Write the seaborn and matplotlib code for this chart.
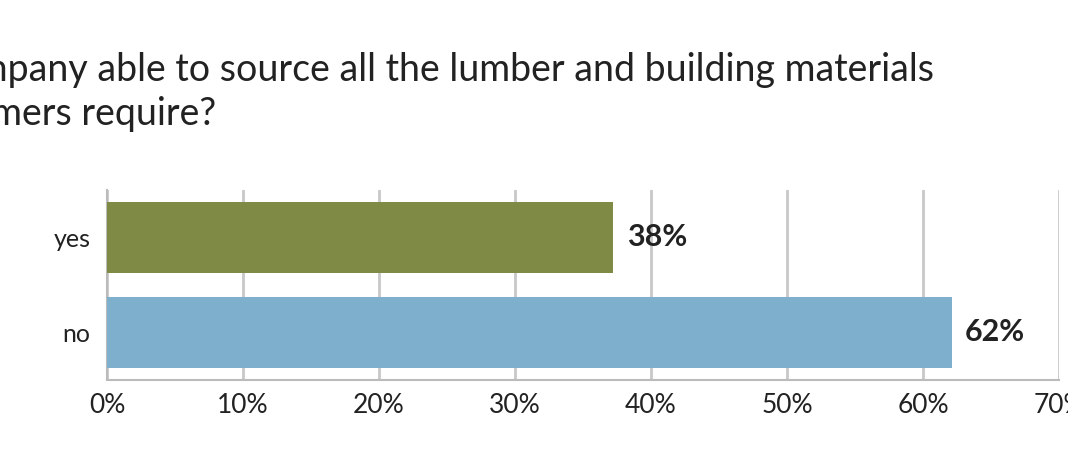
import matplotlib
matplotlib.use("Agg")
import matplotlib.pyplot as plt
import seaborn as sns
import pandas as pd

answers = ["yes", "no"]
shares = [37.2, 62.1]
value_labels = ["38%", "62%"]
bar_colors = ["#7f8b45", "#7eb0ce"]
x_ticks = [0, 10, 20, 30, 40, 50, 60, 70]

sns.set_style("white")
plt.rcParams['font.family'] = ['Lato', 'DejaVu Sans']

df = pd.DataFrame({"answer": answers, "share": shares})

fig = plt.figure(figsize=(10.68, 4.49), dpi=100)
ax = fig.add_axes([0.1002, 0.1537, 0.8914, 0.4233])
sns.barplot(data=df, y="answer", x="share", hue="answer", palette=bar_colors,
            saturation=1, width=0.75, legend=False, ax=ax, zorder=3,
            linewidth=0)

ax.set_xlim(0, 70)
ax.set_xticks(x_ticks)
ax.set_xticklabels([f"{t}%" for t in x_ticks], fontsize=19, color="#222222")
ax.tick_params(axis="y", labelsize=18, colors="#222222", length=0, pad=12)
ax.tick_params(axis="x", length=6, color="#bbbbbb", width=1.5)
ax.grid(axis="x", color="#c8c8c8", linewidth=2, zorder=0)
ax.set_xlabel("")
ax.set_ylabel("")
for s in ["top", "right"]:
    ax.spines[s].set_visible(False)
for s in ["left", "bottom"]:
    ax.spines[s].set_color("#bbbbbb")
    ax.spines[s].set_linewidth(1.5)

for i, (v, lab) in enumerate(zip(shares, value_labels)):
    ax.text(v + 1, i, lab, va="center", ha="left", fontsize=22,
            fontweight="bold", color="#222222")

fig.text(-0.172, 0.705,
         "Is your company able to source all the lumber and building materials\nyour customers require?",
         fontsize=27, color="#222222", ha="left", va="bottom", linespacing=1.3)

fig.savefig("out.png", dpi=100)
